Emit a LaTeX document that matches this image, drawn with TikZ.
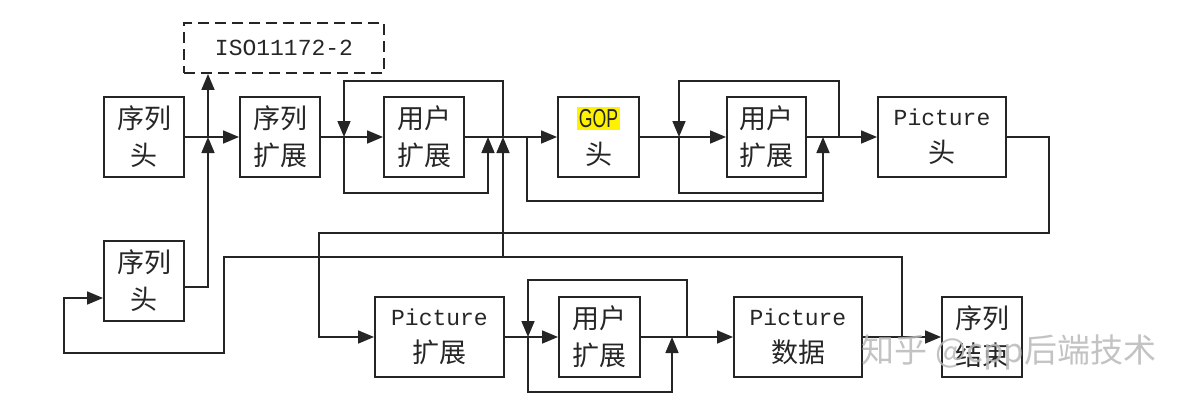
\documentclass[tikz,border=0pt]{standalone}
\usepackage{fontspec}
\setmainfont{Liberation Serif}
\newfontfamily\cjk{Noto Sans CJK SC}
\newfontfamily\mono{Liberation Mono}
\newfontfamily\gopfont[FakeStretch=0.68]{Liberation Sans}
\usetikzlibrary{arrows.meta}
\definecolor{ln}{HTML}{252525}
\definecolor{hl}{HTML}{FFF200}
\definecolor{wm}{HTML}{B8B8B8}
\setlength\fboxsep{2pt}
\begin{document}
\begin{tikzpicture}[x=1pt,y=-1pt,
  box/.style={draw=ln, line width=1.9pt, inner sep=0pt, align=center, minimum height=80pt, text=black!85, font=\cjk\fontsize{27}{37}\selectfont},
  wire/.style={draw=ln, line width=1.7pt},
  arr/.style={wire, -{Triangle[length=16pt,width=13pt]}}
]
\useasboundingbox (0,0) rectangle (1200,407);
% boxes
\node[box, dashed, dash pattern=on 11pt off 6pt, minimum width=200pt, minimum height=50pt, font=\mono\fontsize{23}{23}\selectfont] (iso) at (284,48) {ISO11172-2};
\node[box, minimum width=80pt] (sh1) at (144,137) {序列\\头};
\node[box, minimum width=80pt] (se) at (280,137) {序列\\扩展};
\node[box, minimum width=80pt] (ue1) at (424,137) {用户\\扩展};
\node[box, minimum width=81pt] (gop) at (598.5,137) {{\gopfont\fontsize{26}{26}\selectfont\colorbox{hl}{GOP}}\\头};
\node[box, minimum width=79pt] (ue2) at (766.5,137) {用户\\扩展};
\node[box, minimum width=128pt] (ph) at (942,137) {{\mono\fontsize{23}{23}\selectfont Picture}\\头};
\node[box, minimum width=80pt] (sh2) at (144,281) {序列\\头};
\node[box, minimum width=129pt] (pe) at (439.5,337) {{\mono\fontsize{23}{23}\selectfont Picture}\\扩展};
\node[box, minimum width=81pt] (ue3) at (599.5,337) {用户\\扩展};
\node[box, minimum width=128pt] (pd) at (798,337) {{\mono\fontsize{23}{23}\selectfont Picture}\\数据};
\node[box, minimum width=80pt] (end) at (982,337) {序列\\结束};
% junction coordinates
\coordinate (j1) at (208,137);
\coordinate (L1a) at (344,137);
\coordinate (L1c) at (488,137);
\coordinate (L1b) at (503,137);
\coordinate (B503) at (503,257);
\coordinate (G1) at (527,137);
\coordinate (L2a) at (679,137);
\coordinate (G2) at (823,137);
\coordinate (L2b) at (839,137);
\coordinate (L3a) at (528,337);
\coordinate (L3c) at (672,337);
\coordinate (L3b) at (687,337);
\coordinate (R) at (902,337);
% top row
\draw[arr] (sh1.east) -- (se.west);
\draw[arr] (j1) -- (j1 |- iso.south);
\draw[arr] ([yshift=-6pt]sh2.east) -| (j1);
\draw[arr] (se.east) -- (ue1.west);
\draw[arr] (L1b) -- ++(0,-56) -| (L1a);
\draw[arr] (L1a) -- ++(0,56) -| (L1c);
\draw[arr] (ue1.east) -- (gop.west);
\draw[arr] (B503) -- (L1b);
\draw[arr] (G1) -- ++(0,64) -| (G2);
\draw[arr] (gop.east) -- (ue2.west);
\draw[arr] (L2b) -- ++(0,-56) -| (L2a);
\draw[wire] (L2a) -- ++(0,56) -- ++(144,0);
\draw[arr] (ue2.east) -- (ph.west);
% picture header to picture extension
\draw[arr] (ph.east) -- ++(42,0) -- ++(0,96) -| ([xshift=-55pt]pe.west) -- (pe.west);
% bottom row
\draw[arr] (pe.east) -- (ue3.west);
\draw[arr] (L3b) -- ++(0,-57) -| (L3a);
\draw[arr] (L3a) -- ++(0,55) -| (L3c);
\draw[arr] (ue3.east) -- (pd.west);
\draw[arr] (pd.east) -- (end.west);
% return path
\draw[arr] (R) -- ++(0,-80) -- ++(-678,0) -- ++(0,96) -- ++(-160,0) |- ([yshift=-17pt]sh2.west);
% watermark
\node[font=\cjk\fontsize{33}{33}\selectfont, text=wm, text opacity=0.85, inner sep=0pt] (wmk) at (1009,352) {知乎 @cpp后端技术};
\end{tikzpicture}
\end{document}
